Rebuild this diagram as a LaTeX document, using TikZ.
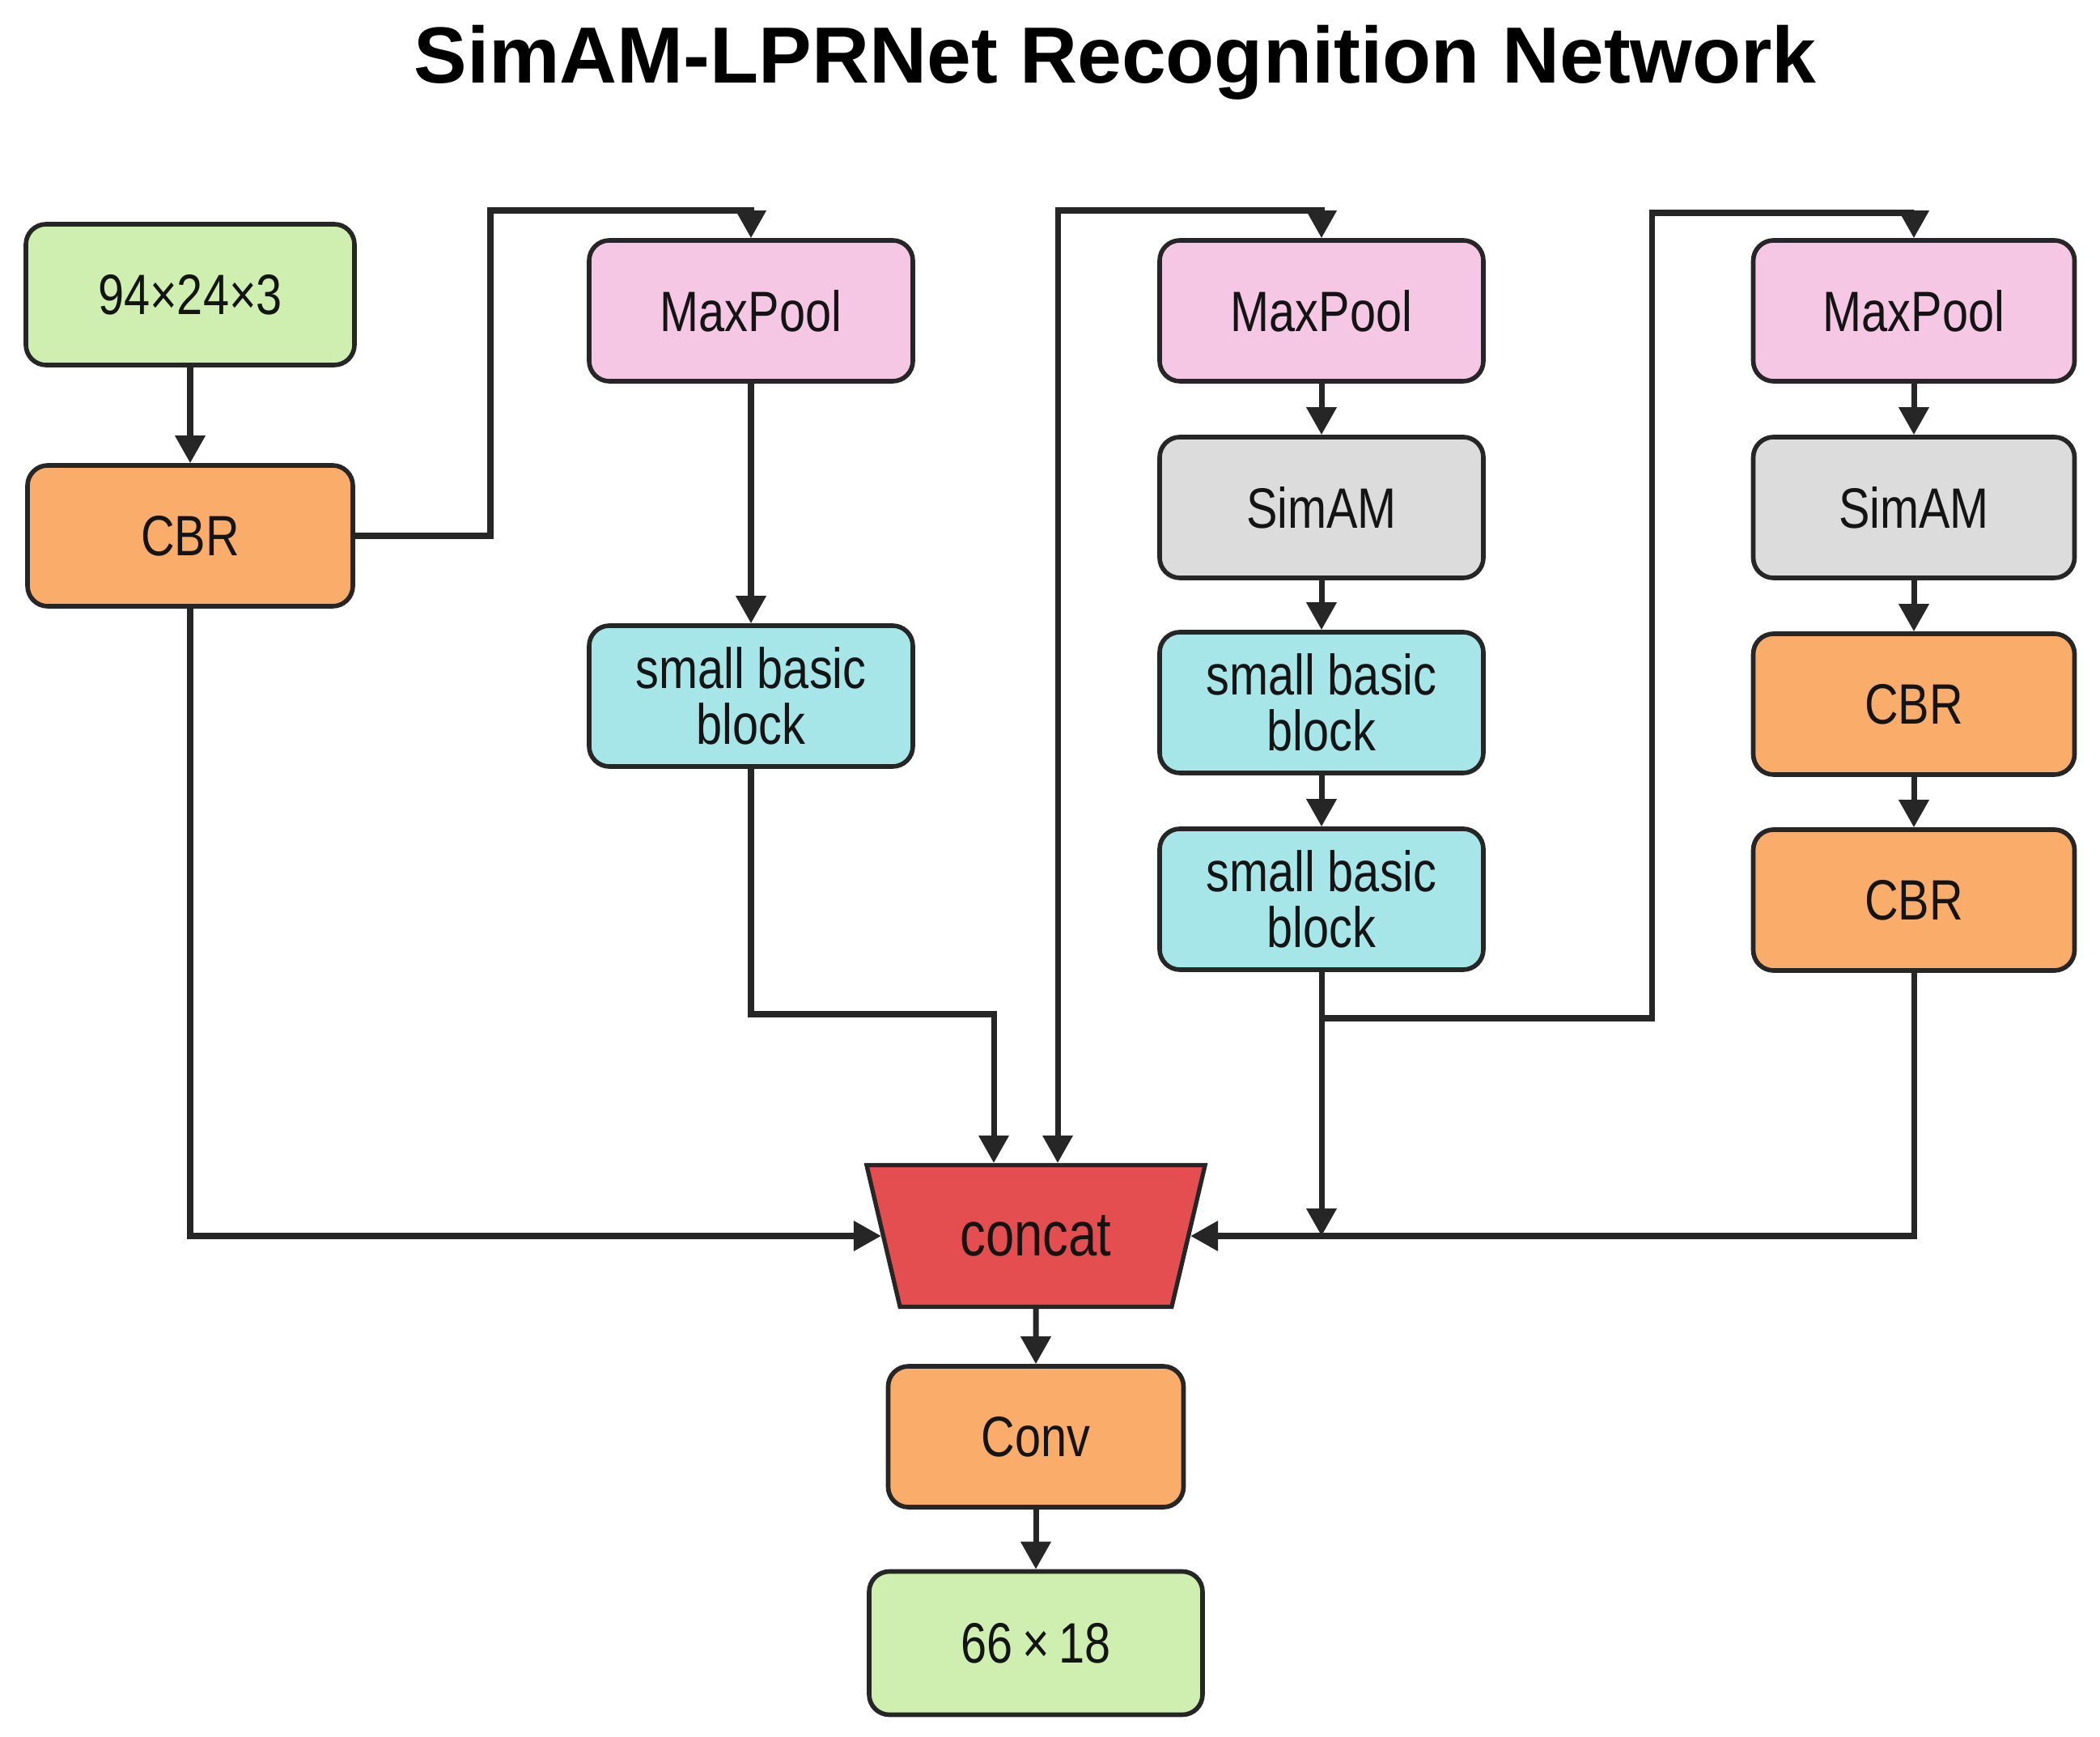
\documentclass[tikz,border=0pt]{standalone}
\usepackage{fontspec}
\setmainfont{Liberation Sans}[FakeStretch=0.82]
\newfontfamily\titlefont{Liberation Sans}
\usepackage{xcolor}
\usepackage{tikz}
\usetikzlibrary{arrows.meta,positioning,calc,shapes.geometric}

\definecolor{linec}{RGB}{38,38,38}
\definecolor{textc}{RGB}{20,20,20}
\definecolor{greenc}{RGB}{207,239,176}
\definecolor{orangec}{RGB}{250,172,106}
\definecolor{pinkc}{RGB}{245,199,228}
\definecolor{cyanc}{RGB}{166,230,232}
\definecolor{grayc}{RGB}{220,220,220}
\definecolor{redc}{RGB}{228,78,80}

\begin{document}
\begin{tikzpicture}[
    font=\fontsize{20}{19.5}\selectfont,
    block/.style={draw=linec, line width=1.6pt, rounded corners=2.5mm, text=textc,
      minimum width=4cm, minimum height=1.74cm, align=center},
    merge/.style={trapezium, trapezium angle=70.8, trapezium stretches=true,
      shape border rotate=180, draw=linec, line width=1.5pt, fill=redc, text=textc,
      minimum width=4.19cm, minimum height=1.75cm, font=\fontsize{22}{22}\selectfont},
    arrow/.style={-{Triangle[length=3.4mm,width=3.6mm]}, draw=linec, line width=2pt},
    biarrow/.style={{Triangle[length=3.4mm,width=3.6mm]}-{Triangle[length=3.4mm,width=3.6mm]}, draw=linec, line width=2pt}
  ]
    \fill[white] (0,0) rectangle (25.95,-21.46);
    \node[font=\titlefont\bfseries\fontsize{28}{28}\selectfont, anchor=base, text=black]
      (title) at (13.78,-1.03) {SimAM-LPRNet Recognition Network};

    % first column
    \node[block, fill=greenc, minimum width=4.06cm] (in) at (2.35,-3.64) {94×24×3};
    \node[block, fill=orangec, minimum width=4.02cm] (cbr1) at (2.35,-6.62) {CBR};
    % second column
    \node[block, fill=pinkc] (mp1) at (9.28,-3.84) {MaxPool};
    \node[block, fill=cyanc] (sbb1) at (9.28,-8.60) {small basic\\block};
    % third column
    \node[block, fill=pinkc] (mp2) at (16.33,-3.84) {MaxPool};
    \node[block, fill=grayc] (sim2) at (16.33,-6.27) {SimAM};
    \node[block, fill=cyanc] (sbb2a) at (16.33,-8.68) {small basic\\block};
    \node[block, fill=cyanc] (sbb2b) at (16.33,-11.11) {small basic\\block};
    % fourth column
    \node[block, fill=pinkc, minimum width=3.97cm] (mp3) at (23.65,-3.84) {MaxPool};
    \node[block, fill=grayc, minimum width=3.97cm] (sim3) at (23.65,-6.27) {SimAM};
    \node[block, fill=orangec, minimum width=3.97cm] (cbr3a) at (23.65,-8.70) {CBR};
    \node[block, fill=orangec, minimum width=3.97cm] (cbr3b) at (23.65,-11.12) {CBR};
    % head
    \node[merge] (concat) at (12.80,-15.27) {concat};
    \node[block, fill=orangec, minimum width=3.65cm] (conv) at (12.80,-17.75) {Conv};
    \node[block, fill=greenc, minimum width=4.12cm, minimum height=1.77cm] (out) at (12.80,-20.30) {66\,×\,18};

    \coordinate (k0) at (6.06,-2.60);
    \coordinate (k1) at (12.28,-12.53);
    \coordinate (k2) at (13.07,-2.60);
    \coordinate (k3) at (20.41,-2.63);
    \coordinate (k4) at (16.33,-12.58);

    \foreach \a/\b in {in/cbr1, mp1/sbb1, mp2/sim2, sim2/sbb2a, sbb2a/sbb2b,
                       mp3/sim3, sim3/cbr3a, cbr3a/cbr3b, concat/conv, conv/out}
      \draw[arrow] (\a) -- (\b);

    \draw[arrow] (cbr1.east) -| (k0) -| (mp1.north);
    \draw[arrow] (sbb1.south) |- (k1) -- (k1 |- concat.north);
    \draw[biarrow] (k2 |- concat.north) -- (k2) -| (mp2.north);
    \draw[arrow] (sbb2b.south) -- (k4) -| (k3) -| (mp3.north);
    \draw[arrow] (k4) -- (k4 |- concat);
    \draw[arrow] (cbr1.south) |- (concat);
    \draw[arrow] (cbr3b.south) |- (concat);
  \end{tikzpicture}
\end{document}
